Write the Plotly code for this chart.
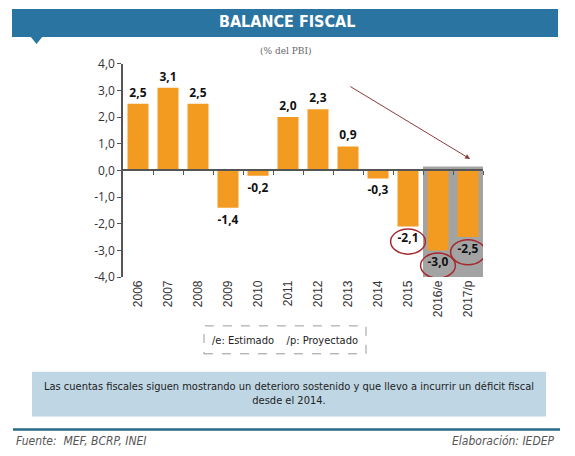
import plotly.graph_objects as go

# Chart data
years = ["2006", "2007", "2008", "2009", "2010", "2011", "2012", "2013",
         "2014", "2015", "2016/e", "2017/p"]
balance = [2.5, 3.1, 2.5, -1.4, -0.2, 2.0, 2.3, 0.9, -0.3, -2.1, -3.0, -2.5]
circled = ["2015", "2016/e", "2017/p"]
shaded = ["2016/e", "2017/p"]
y_ticks = [4.0, 3.0, 2.0, 1.0, 0.0, -1.0, -2.0, -3.0, -4.0]

W, H = 575, 456
BLUE = "#2A74A2"
ORANGE = "#F39A20"
NARROW = "Liberation Sans Narrow, DejaVu Sans Condensed, Roboto, sans-serif"

# the photo of the page comes out with an 8px band on top and ~3% vertical squeeze,
# so layout positions (measured on the reference, in px) are corrected for that
TOP_PAD = 8
SQUEEZE = H / (H + 2 * TOP_PAD)


def px(x):
    return x / W


def py(y):
    return 1 - ((y - TOP_PAD) / SQUEEZE) / H


def fmt(v):
    return f"{v:.1f}".replace(".", ",")


def label(x, y, text, size, color="#222", family=NARROW, xanchor="center", **kw):
    return dict(x=px(x), y=py(y), xref="paper", yref="paper", text=text,
                xanchor=xanchor, yanchor="middle", showarrow=False,
                font=dict(family=family, size=size, color=color, **kw))


fig = go.Figure()

fig.add_trace(go.Bar(
    x=years, y=balance,
    marker=dict(color=ORANGE, line=dict(width=0)),
    width=0.7,
    text=[fmt(v) for v in balance],
    textposition="outside",
    textfont=dict(family="Open Sans, sans-serif", size=12, color="#111", weight="bold"),
    cliponaxis=False,
    hoverinfo="skip",
))

# invisible trace so the zero-crossing axis (x2) gets drawn
fig.add_trace(go.Scatter(
    x=[0], y=[0], xaxis="x2", yaxis="y", mode="markers",
    marker=dict(opacity=0), showlegend=False, hoverinfo="skip",
))

n = len(years)
x_dom = [px(123), px(483)]
y_dom = [py(277), py(63)]
zero_pos = y_dom[0] + (y_dom[1] - y_dom[0]) * (0 - y_ticks[-1]) / (y_ticks[0] - y_ticks[-1])

shapes = []
# header bar and its little pointer
shapes.append(dict(type="rect", xref="paper", yref="paper", x0=px(12), x1=px(558),
                   y0=py(36), y1=min(py(6), 1), fillcolor=BLUE, line=dict(width=0), layer="below"))
shapes.append(dict(type="path", xref="paper", yref="paper",
                   path=f"M {px(30)},{py(35)} L {px(43)},{py(35)} L {px(36.5)},{py(43)} Z",
                   fillcolor=BLUE, line=dict(width=0)))
# gray shade behind estimated / projected years
i0 = years.index(shaded[0])
i1 = years.index(shaded[-1])
shapes.append(dict(type="rect", xref="x2", yref="y", x0=i0 - 0.5, x1=i1 + 0.5,
                   y0=-4.1, y1=0.15, fillcolor="#A3A3A3", line=dict(width=0), layer="below"))
# red ellipses around the latest labels
for c in circled:
    i = years.index(c)
    v = balance[i]
    shapes.append(dict(type="circle", xref="x2", yref="y",
                       x0=i - 0.58, x1=i + 0.58, y0=v - 1.04, y1=v - 0.10,
                       line=dict(color="#A52A2F", width=1.5)))
# dashed legend box
shapes.append(dict(type="rect", xref="paper", yref="paper", x0=px(204), x1=px(366),
                   y0=py(354), y1=py(326), line=dict(color="#9A9A9A", width=1, dash="dash")))
# light blue comment box
shapes.append(dict(type="rect", xref="paper", yref="paper", x0=px(32), x1=px(546),
                   y0=py(417), y1=py(372), fillcolor="#BFD6E4", line=dict(width=0), layer="below"))
# footer rule
shapes.append(dict(type="line", xref="paper", yref="paper", x0=px(13), x1=px(560),
                   y0=py(430), y1=py(430), line=dict(color="#2B6A84", width=2.5)))

annotations = [
    label(287, 21, "<b>BALANCE FISCAL</b>", 16, color="white"),
    label(286, 50, "(% del PBI)", 9, color="#666", family="DejaVu Serif, serif"),
    label(285, 341, "/e: Estimado&nbsp;&nbsp;&nbsp;&nbsp;/p: Proyectado", 11),
    label(289, 394,
          "Las cuentas fiscales siguen mostrando un deterioro sostenido y que llevo a incurrir un déficit fiscal<br>desde el 2014.",
          11),
    label(14, 442, "Fuente:  MEF, BCRP, INEI", 12, color="#555", xanchor="left", style="italic"),
    label(557, 442, "Elaboración: IEDEP", 12, color="#555", xanchor="right", style="italic"),
    # trend arrow
    dict(x=11.07, y=0.43, xref="x2", yref="y", ax=7.03, ay=3.18, axref="x2", ayref="y",
         text="", showarrow=True, arrowhead=2, arrowsize=1, arrowwidth=1,
         arrowcolor="#8E3B3B"),
]

fig.update_layout(
    width=W, height=H,
    margin=dict(l=0, r=0, t=0, b=0),
    paper_bgcolor="white", plot_bgcolor="rgba(0,0,0,0)",
    showlegend=False,
    bargap=0.3,
    shapes=shapes,
    annotations=annotations,
    xaxis=dict(
        domain=x_dom, type="category", range=[-0.5, n - 0.5],
        showline=False, ticks="", showgrid=False, zeroline=False,
        tickangle=-90,
        tickfont=dict(family="Liberation Sans, Arial, sans-serif", size=12, color="#333"),
    ),
    xaxis2=dict(
        domain=x_dom, overlaying="x", anchor="free", position=zero_pos,
        range=[-0.5, n - 0.5], showgrid=False, zeroline=False,
        showline=True, linecolor="#555", linewidth=1.5,
        ticks="outside", ticklen=4, tickcolor="#555", tickwidth=1,
        tickvals=[i + 0.5 for i in range(n)], showticklabels=False,
    ),
    yaxis=dict(
        domain=y_dom, range=[y_ticks[-1], y_ticks[0]],
        tickvals=y_ticks, ticktext=[fmt(v) for v in y_ticks],
        showline=True, linecolor="#555", linewidth=1.5,
        ticks="outside", ticklen=4, tickcolor="#555",
        showgrid=False, zeroline=False,
        tickfont=dict(family="Open Sans, sans-serif", size=12, color="#333"),
    ),
)

# pin the 575x456 figure to the window's top-left corner so the page is exactly one screen
pin_figure = """
document.documentElement.style.margin = '0';
document.body.style.margin = '0';
document.body.style.overflow = 'hidden';
var gd = document.querySelector('.plotly-graph-div');
gd.style.position = 'fixed';
gd.style.top = '0';
gd.style.left = '0';
"""

fig.write_html("out.html", config={"displayModeBar": False}, post_script=pin_figure)
